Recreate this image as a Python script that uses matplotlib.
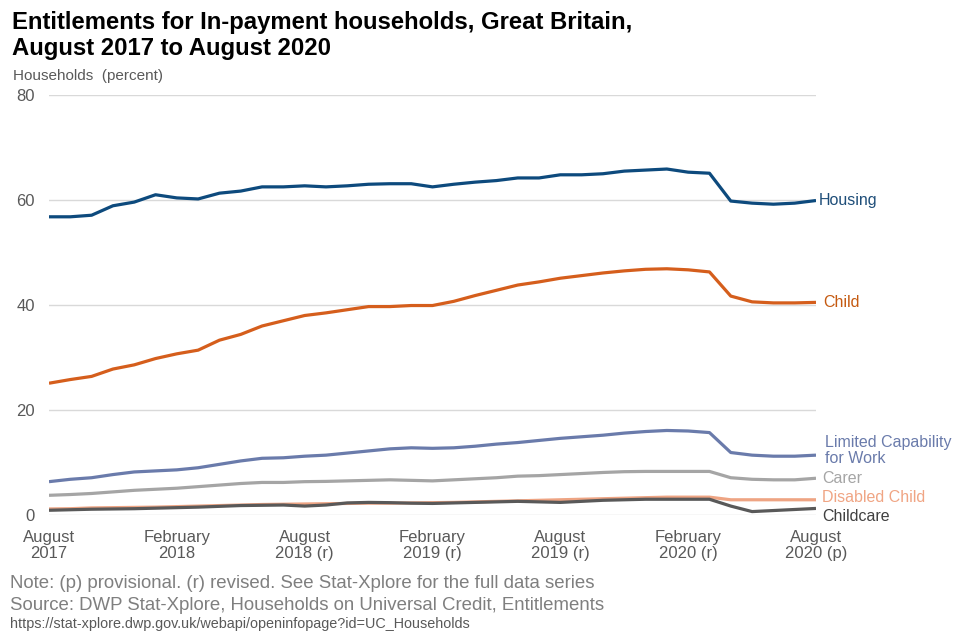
import numpy as np
import matplotlib
matplotlib.use("Agg")
from matplotlib import pyplot as plt

plt.rcParams['font.family'] = ['Liberation Sans', 'DejaVu Sans']

# monthly, August 2017 to August 2020 (37 months)
months = np.arange(37)

housing = [56.8, 56.8, 57.1, 58.9, 59.6, 61.0, 60.4, 60.2, 61.3, 61.7,
           62.5, 62.5, 62.7, 62.5, 62.7, 63.0, 63.1, 63.1, 62.5, 63.0,
           63.4, 63.7, 64.2, 64.2, 64.8, 64.8, 65.0, 65.5, 65.7, 65.9,
           65.3, 65.1, 59.8, 59.4, 59.2, 59.4, 59.9]
child = [25.1, 25.8, 26.4, 27.8, 28.6, 29.8, 30.7, 31.4, 33.3, 34.4,
         36.0, 37.0, 38.0, 38.5, 39.1, 39.7, 39.7, 39.9, 39.9, 40.7,
         41.8, 42.8, 43.8, 44.4, 45.1, 45.6, 46.1, 46.5, 46.8, 46.9,
         46.7, 46.3, 41.7, 40.6, 40.4, 40.4, 40.5]
lcw = [6.35, 6.8, 7.1, 7.7, 8.2, 8.4, 8.6, 9.0, 9.65, 10.3,
       10.8, 10.9, 11.2, 11.4, 11.8, 12.2, 12.6, 12.8, 12.7, 12.8,
       13.1, 13.5, 13.8, 14.2, 14.6, 14.9, 15.2, 15.6, 15.9, 16.1,
       16.0, 15.7, 11.9, 11.4, 11.2, 11.2, 11.4]
carer = [3.75, 3.9, 4.1, 4.4, 4.7, 4.9, 5.1, 5.4, 5.7, 6.0,
         6.2, 6.2, 6.35, 6.4, 6.5, 6.6, 6.7, 6.6, 6.5, 6.7,
         6.9, 7.1, 7.4, 7.5, 7.7, 7.9, 8.1, 8.25, 8.3, 8.3,
         8.3, 8.3, 7.1, 6.8, 6.7, 6.7, 7.0]
disabled_child = [1.15, 1.2, 1.35, 1.4, 1.45, 1.5, 1.6, 1.7, 1.8, 1.9,
                  2.0, 2.05, 2.1, 2.15, 2.2, 2.25, 2.25, 2.3, 2.35, 2.4,
                  2.5, 2.6, 2.7, 2.8, 2.9, 3.0, 3.1, 3.2, 3.3, 3.4,
                  3.4, 3.4, 2.9, 2.9, 2.9, 2.9, 2.9]
childcare = [0.9, 1.0, 1.1, 1.15, 1.2, 1.3, 1.4, 1.5, 1.65, 1.8,
             1.85, 1.9, 1.7, 1.9, 2.3, 2.4, 2.35, 2.25, 2.2, 2.3,
             2.4, 2.5, 2.6, 2.5, 2.4, 2.6, 2.8, 2.9, 3.0, 3.0,
             3.0, 3.0, 1.7, 0.65, 0.85, 1.05, 1.25]

tick_pos = [0, 6, 12, 18, 24, 30, 36]
tick_labels = ["August\n2017", "February\n2018", "August\n2018 (r)", "February\n2019 (r)",
               "August\n2019 (r)", "February\n2020 (r)", "August\n2020 (p)"]

series = [
    ("Housing", housing, "#0d4a7d", "#1f4e79"),
    ("Child", child, "#d55e1c", "#c55a11"),
    ("Limited Capability\nfor Work", lcw, "#6a7bab", "#6a7bab"),
    ("Carer", carer, "#a5a5a5", "#a5a5a5"),
    ("Disabled Child", disabled_child, "#eea483", "#f0a584"),
    ("Childcare", childcare, "#595959", "#404040"),
]
# label positions next to line ends
label_y = [60.0, 40.4, 12.3, 6.9, 3.4, -0.2]
label_x = [36.15, 36.35, 36.4, 36.3, 36.3, 36.3]

fig = plt.figure(figsize=(9.6, 6.4), dpi=100)
ax = fig.add_axes([49 / 960, 125 / 640, 767 / 960, 420 / 640])

for (name, vals, col, tcol), lx, ly in zip(series, label_x, label_y):
    ax.plot(months, vals, color=col, lw=2.3, solid_capstyle='butt', zorder=3)
    ax.text(lx, ly, name, color=tcol, fontsize=11.5, va='center', ha='left',
            linespacing=1.05, clip_on=False)

ax.set_xlim(0, 36)
ax.set_ylim(0, 80)
ax.set_yticks([0, 20, 40, 60, 80])
ax.set_xticks(tick_pos)
ax.set_xticklabels(tick_labels, linespacing=1.1)
ax.grid(axis='y', color='#d9d9d9', lw=1)
ax.set_axisbelow(True)
for s in ax.spines.values():
    s.set_visible(False)
ax.tick_params(axis='both', length=0, colors='#595959', labelsize=12)
ax.tick_params(axis='y', pad=10)
ax.tick_params(axis='x', pad=11)

fig.text(12 / 960, 1 - 22 / 640, "Entitlements for In-payment households, Great Britain,",
         fontsize=17.2, fontweight='bold', va='center', ha='left')
fig.text(12 / 960, 1 - 49 / 640, "August 2017 to August 2020",
         fontsize=17.2, fontweight='bold', va='center', ha='left')
fig.text(13 / 960, 1 - 76 / 640, "Households  (percent)", fontsize=11,
         color='#595959', va='center', ha='left')

fig.text(10 / 960, 1 - 583 / 640,
         "Note: (p) provisional. (r) revised. See Stat-Xplore for the full data series",
         fontsize=13.4, color='#7f7f7f', va='center', ha='left')
fig.text(10 / 960, 1 - 605 / 640,
         "Source: DWP Stat-Xplore, Households on Universal Credit, Entitlements",
         fontsize=13.4, color='#7f7f7f', va='center', ha='left')
fig.text(10 / 960, 1 - 624 / 640,
         "https://stat-xplore.dwp.gov.uk/webapi/openinfopage?id=UC_Households",
         fontsize=10.4, color='#595959', va='center', ha='left')

fig.savefig("out.png", dpi=100)
